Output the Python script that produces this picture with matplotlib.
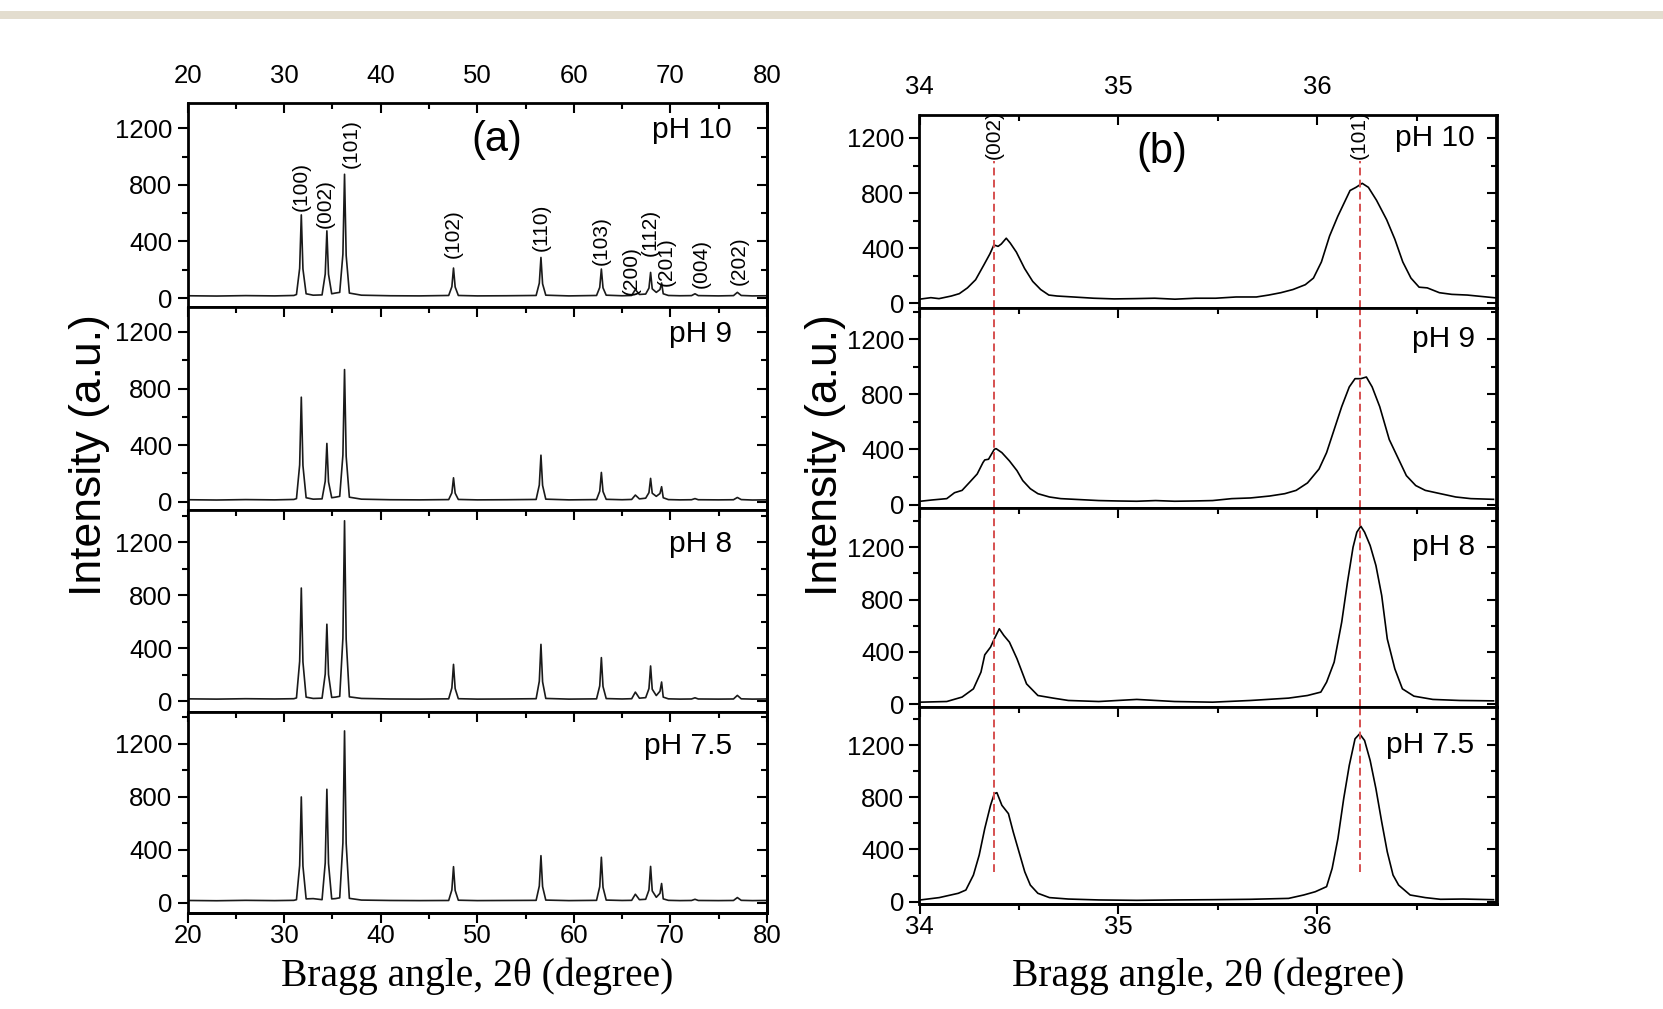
import numpy as np
import matplotlib.pyplot as plt
from matplotlib import font_manager
from matplotlib.patches import Rectangle
from matplotlib.ticker import MultipleLocator

plt.rcParams['font.family'] = ['Liberation Sans', 'DejaVu Sans']

W, H = 1663, 1009

ph_labels = ['pH 10', 'pH 9', 'pH 8', 'pH 7.5']

# ---- panel (a): full scan ----
x_a = [20.0, 23.0, 26.0, 29.0, 31.0,
       31.27, 31.60, 31.77, 31.94, 32.27,
       33.0,
       33.92, 34.25, 34.42, 34.59, 34.92,
       35.3,
       35.75, 36.08, 36.25, 36.42, 36.75,
       38.0, 41.0, 44.0,
       47.04, 47.37, 47.54, 47.71, 48.04,
       50.0, 53.0,
       56.10, 56.43, 56.60, 56.77, 57.10,
       59.5,
       62.36, 62.69, 62.86, 63.03, 63.36,
       65.0,
       66.0, 66.38, 66.8,
       67.45,
       67.79, 67.96, 68.13,
       68.55,
       68.93, 69.10, 69.27,
       69.8, 71.0,
       72.2, 72.56, 72.9,
       75.0,
       76.55, 76.95, 77.35,
       78.5, 80.0]

y_a_ph10 = [16, 14, 17, 15, 18,
            25, 210, 588, 205, 30,
            20,
            22, 170, 475, 168, 30,
            35,
            40, 310, 875, 300, 35,
            20, 16, 15,
            18, 80, 212, 78, 18,
            15, 16,
            18, 105, 287, 100, 20,
            15,
            18, 75, 205, 72, 20,
            16,
            18, 60, 25,
            28,
            70, 181, 65,
            40,
            60, 106, 30,
            18, 16,
            17, 30, 17,
            15,
            17, 40, 18,
            15, 16]

y_a_ph9 = [14, 12, 15, 13, 16,
           22, 260, 739, 255, 28,
           18,
           20, 145, 412, 140, 28,
           32,
           38, 330, 934, 320, 32,
           18, 14, 13,
           15, 62, 169, 60, 16,
           13, 14,
           16, 118, 329, 115, 18,
           13,
           15, 74, 207, 72, 17,
           14,
           16, 47, 20,
           25,
           64, 165, 60,
           38,
           58, 106, 28,
           15, 13,
           14, 22, 14,
           13,
           14, 30, 15,
           12, 13]

y_a_ph8 = [17, 15, 18, 16, 18,
           24, 300, 853, 295, 30,
           20,
           22, 205, 580, 200, 28,
           30,
           36, 475, 1360, 465, 32,
           20, 16, 15,
           17, 100, 277, 95, 18,
           15, 16,
           18, 150, 428, 145, 20,
           15,
           17, 115, 328, 110, 19,
           16,
           18, 68, 22,
           26,
           95, 265, 90,
           42,
           75, 144, 30,
           17, 15,
           16, 25, 16,
           15,
           16, 43, 17,
           15, 16]

y_a_ph75 = [16, 14, 17, 15, 17,
            22, 280, 797, 275, 28,
            30,
            22, 300, 855, 295, 28,
            30,
            36, 450, 1295, 445, 32,
            19, 16, 15,
            16, 95, 271, 92, 18,
            15, 16,
            17, 125, 354, 120, 19,
            15,
            17, 120, 342, 115, 19,
            16,
            17, 63, 22,
            25,
            95, 273, 88,
            40,
            70, 144, 28,
            17, 15,
            16, 25, 16,
            15,
            16, 38, 17,
            15, 16]

hkl_a = ['(100)', '(002)', '(101)', '(102)', '(110)', '(103)',
         '(200)', '(112)', '(201)', '(004)', '(202)']
hkl_a_x = [31.8, 34.2, 36.9, 47.5, 56.6, 62.8, 66.0, 67.9, 69.55, 73.2, 77.1]
hkl_a_y = [612, 494, 918, 282, 329, 235, 24, 294, 82, 70, 94]

# ---- panel (b): zoom on (002) and (101) ----
x_b_ph10 = [34.000, 34.057, 34.098, 34.160, 34.200, 34.241, 34.282, 34.323,
            34.354, 34.374, 34.395, 34.411, 34.436, 34.456, 34.487, 34.528,
            34.569, 34.609, 34.650, 34.691, 34.773, 34.875, 34.978, 35.080,
            35.182, 35.284, 35.387, 35.489, 35.591, 35.693, 35.755, 35.816,
            35.877, 35.939, 35.980, 36.020, 36.061, 36.102, 36.133, 36.164,
            36.194, 36.225, 36.256, 36.297, 36.348, 36.389, 36.429, 36.470,
            36.511, 36.552, 36.613, 36.675, 36.753, 36.900]
y_b_ph10 = [31, 42, 35, 54, 71, 113, 172, 278,
            360, 424, 414, 431, 473, 438, 372, 254,
            160, 101, 61, 54, 47, 38, 33, 35,
            38, 31, 38, 38, 47, 47, 61, 78,
            101, 136, 184, 301, 489, 631, 725, 819,
            842, 871, 842, 748, 607, 466, 301, 184,
            118, 113, 78, 66, 61, 40]

x_b_ph9 = [34.004, 34.061, 34.137, 34.176, 34.214, 34.252, 34.290, 34.319,
           34.328, 34.347, 34.376, 34.385, 34.414, 34.452, 34.490, 34.519,
           34.557, 34.595, 34.653, 34.710, 34.805, 34.901, 34.996, 35.092,
           35.187, 35.282, 35.378, 35.473, 35.569, 35.664, 35.760, 35.836,
           35.893, 35.950, 36.008, 36.046, 36.084, 36.122, 36.160, 36.189,
           36.218, 36.246, 36.275, 36.313, 36.361, 36.408, 36.447, 36.494,
           36.542, 36.618, 36.695, 36.771, 36.885]
y_b_ph9 = [24, 33, 43, 86, 103, 162, 222, 305,
           324, 329, 401, 406, 377, 317, 246, 174,
           115, 79, 55, 43, 36, 29, 26, 24,
           29, 24, 26, 29, 43, 48, 62, 79,
           103, 157, 258, 377, 544, 711, 854, 914,
           914, 926, 854, 711, 472, 329, 210, 138,
           103, 79, 55, 43, 38]

x_b_ph8 = [34.004, 34.137, 34.214, 34.271, 34.309, 34.328, 34.357, 34.376,
           34.401, 34.424, 34.452, 34.490, 34.538, 34.595, 34.672, 34.748,
           34.901, 35.092, 35.282, 35.473, 35.664, 35.855, 35.950, 36.017,
           36.046, 36.084, 36.122, 36.151, 36.179, 36.198, 36.218, 36.237,
           36.265, 36.294, 36.323, 36.351, 36.389, 36.427, 36.485, 36.580,
           36.714, 36.885]
y_b_ph8 = [15, 20, 54, 117, 245, 377, 436, 499,
           576, 525, 474, 347, 155, 66, 46, 28,
           20, 36, 20, 15, 28, 46, 66, 92,
           168, 321, 627, 933, 1200, 1315, 1361, 1315,
           1213, 1060, 831, 499, 270, 117, 61, 36,
           28, 25]

x_b_ph75 = [34.004, 34.099, 34.195, 34.233, 34.271, 34.300, 34.328, 34.357,
            34.376, 34.389, 34.414, 34.447, 34.471, 34.500, 34.529, 34.557,
            34.595, 34.653, 34.748, 34.901, 35.092, 35.282, 35.473, 35.664,
            35.855, 35.931, 35.989, 36.046, 36.074, 36.103, 36.132, 36.160,
            36.189, 36.212, 36.237, 36.265, 36.294, 36.323, 36.351, 36.380,
            36.408, 36.466, 36.542, 36.618, 36.733, 36.885]
y_b_ph75 = [13, 31, 64, 89, 204, 357, 561, 739,
            828, 836, 739, 675, 535, 382, 229, 127,
            64, 31, 20, 13, 10, 13, 15, 18,
            25, 51, 76, 115, 255, 484, 790, 1045,
            1249, 1287, 1236, 1083, 866, 612, 382, 204,
            127, 51, 31, 18, 20, 15]

hkl_b = ['(002)', '(101)']
hkl_b_x = [34.375, 36.212]
ref_top = 1030     # dashed reference lines start below the labels
ref_bottom = 230   # and stop inside the pH 7.5 panel

curves_a = [y_a_ph10, y_a_ph9, y_a_ph8, y_a_ph75]
curves_b = [(x_b_ph10, y_b_ph10), (x_b_ph9, y_b_ph9),
            (x_b_ph8, y_b_ph8), (x_b_ph75, y_b_ph75)]

ylims_a = [(-60, 1380), (-60, 1380), (-80, 1440), (-80, 1440)]
ylims_b = [(-30, 1370), (-25, 1430), (-25, 1500), (-15, 1490)]

rows_a = [102.9, 306.5, 510.2, 711.7, 913.2]
rows_b = [114.5, 307.6, 508.0, 707.4, 903.6]

# the y titles in the original are drawn in a tall, narrow face
installed = {f.name for f in font_manager.fontManager.ttflist}
if 'Liberation Sans Narrow' in installed:
    ylab_family, ylab_size = ['Liberation Sans Narrow', 'DejaVu Sans'], 37
else:
    ylab_family, ylab_size = ['Liberation Sans', 'DejaVu Sans'], 32

fig = plt.figure(figsize=(W / 100, H / 100), dpi=100)
fig.add_artist(Rectangle((0, 1 - 19 / H), 1, 8 / H, transform=fig.transFigure,
                         color='#e3ddcf', lw=0, zorder=0))

TICK_FS = 18.5


def style_axes(ax, top, bottom, xmaj, xmin):
    for sp in ax.spines.values():
        sp.set_linewidth(2.0)
    ax.xaxis.set_major_locator(MultipleLocator(xmaj))
    ax.xaxis.set_minor_locator(MultipleLocator(xmin))
    ax.yaxis.set_major_locator(MultipleLocator(400))
    ax.yaxis.set_minor_locator(MultipleLocator(200))
    ax.tick_params(axis='x', which='both', direction='in', top=True, bottom=False,
                   labelbottom=False, labeltop=top, labelsize=TICK_FS, pad=11)
    ax.tick_params(axis='y', which='both', direction='out', left=True, right=False,
                   labelsize=TICK_FS, pad=4)
    ax.tick_params(which='major', length=7, width=1.5)
    ax.tick_params(which='minor', length=4, width=1.5)
    sy = ax.secondary_yaxis('right')
    sy.yaxis.set_major_locator(MultipleLocator(400))
    sy.yaxis.set_minor_locator(MultipleLocator(200))
    sy.tick_params(which='both', direction='in', labelright=False, width=1.5)
    sy.tick_params(which='major', length=7)
    sy.tick_params(which='minor', length=4)
    sy.spines['right'].set_linewidth(2.0)
    if bottom:
        sx = ax.secondary_xaxis('bottom')
        sx.xaxis.set_major_locator(MultipleLocator(xmaj))
        sx.xaxis.set_minor_locator(MultipleLocator(xmin))
        sx.tick_params(which='both', direction='out', labelsize=TICK_FS, width=1.5, pad=1)
        sx.tick_params(which='major', length=7)
        sx.tick_params(which='minor', length=4)
        sx.spines['bottom'].set_linewidth(2.0)


def add_axes_px(left, top, right, bottom):
    return fig.add_axes([left / W, 1 - bottom / H, (right - left) / W, (bottom - top) / H])


for i in range(4):
    # panel (a)
    ax = add_axes_px(187.7, rows_a[i], 766.8, rows_a[i + 1])
    ax.plot(x_a, curves_a[i], color='#1a1a1a', lw=1.2)
    ax.set_xlim(20, 80)
    ax.set_ylim(*ylims_a[i])
    style_axes(ax, i == 0, i == 3, 10, 5)
    ax.text(76.4, 1185, ph_labels[i], ha='right', va='center', fontsize=21.5)
    if i == 0:
        ax.text(52.0, 1120, '(a)', ha='center', va='center', fontsize=30)
        for lab, lx, ly in zip(hkl_a, hkl_a_x, hkl_a_y):
            ax.text(lx, ly, lab, rotation=90, ha='center', va='bottom', fontsize=15)

    # panel (b)
    bx = add_axes_px(919.5, rows_b[i], 1496.5, rows_b[i + 1])
    xs, ys = curves_b[i]
    bx.plot(xs, ys, color='black', lw=1.2)
    bx.set_xlim(34, 36.9)
    bx.set_ylim(*ylims_b[i])
    style_axes(bx, i == 0, i == 3, 1, 0.5)
    bx.text(36.79, 1200, ph_labels[i], ha='right', va='center', fontsize=21.5)
    lo = ylims_b[i][0] if i < 3 else ref_bottom
    hi = ref_top if i == 0 else ylims_b[i][1]
    for hx in hkl_b_x:
        bx.plot([hx, hx], [lo, hi], color='#d65050', lw=1.4, dashes=(4, 2.2))
    if i == 0:
        bx.text(35.22, 1095, '(b)', ha='center', va='center', fontsize=30)
        for lab, lx in zip(hkl_b, hkl_b_x):
            bx.text(lx, 1045, lab, rotation=90, ha='center', va='bottom', fontsize=15)

for cx in (90, 825):
    fig.text(cx / W, 1 - 455 / H, 'Intensity (a.u.)', rotation=90,
             family=ylab_family, ha='center', va='center', fontsize=ylab_size)
for cx in (477, 1208):
    fig.text(cx / W, 1 - 976 / H, 'Bragg angle, 2\u03b8 (degree)',
             family=['Liberation Serif', 'DejaVu Serif'],
             ha='center', va='center', fontsize=28.5)

fig.savefig('out.png', dpi=100)
